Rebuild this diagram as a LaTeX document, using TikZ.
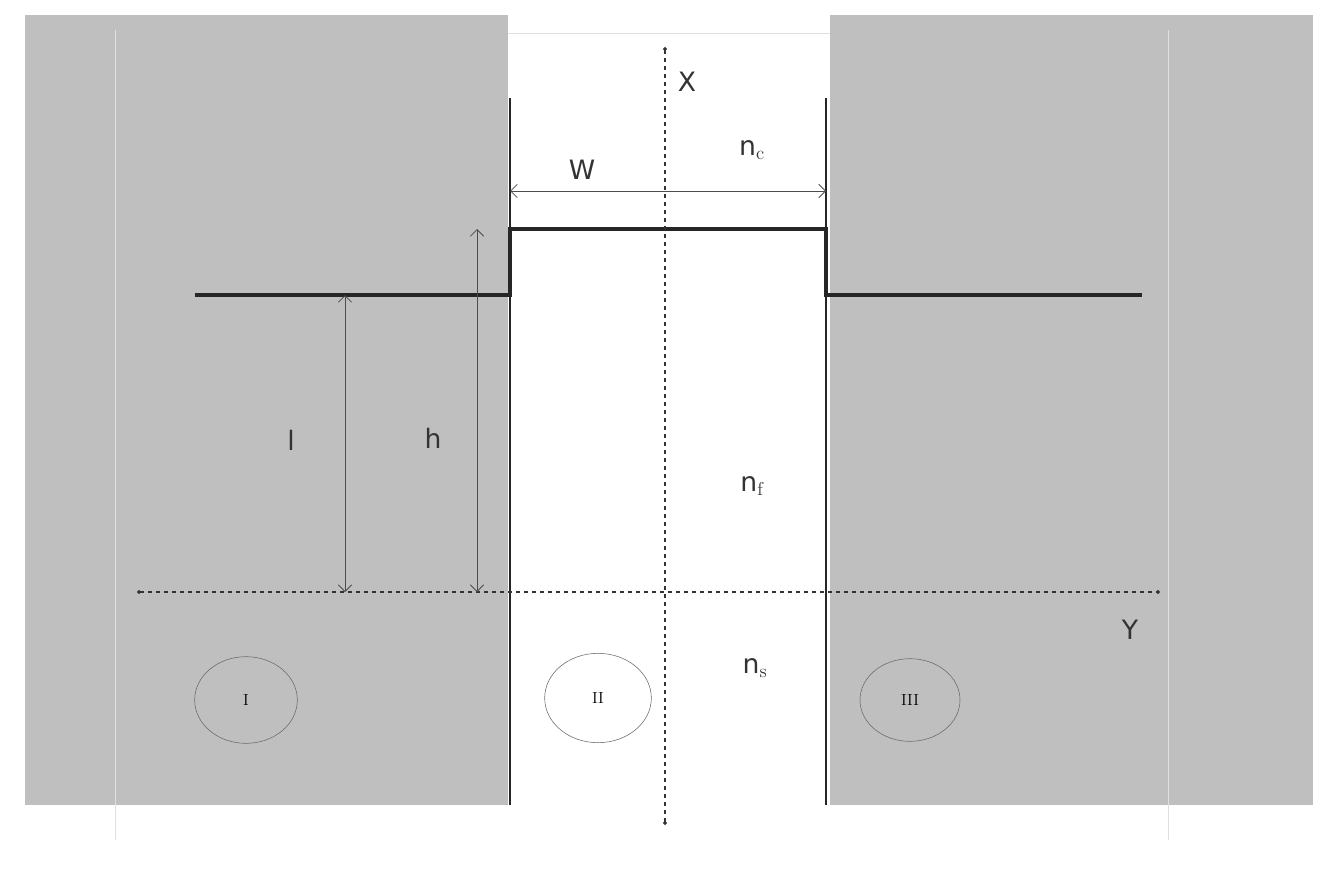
\documentclass[tikz,border=0pt]{standalone}
\usepackage{fontspec}
\setsansfont{DejaVu Sans}
\usetikzlibrary{arrows.meta}
\begin{document}
\begin{tikzpicture}[x=0.75pt,y=-0.75pt,
  lbl/.style={font=\sffamily\fontsize{20}{24}\selectfont,text=black!80},
  rom/.style={draw=black!60,ellipse,inner sep=0pt,font=\fontsize{12}{14}\selectfont},
  dim/.style={draw=black!70,line width=0.6pt,{Straight Barb[length=5pt]}-{Straight Barb[length=5pt]}},
  ax/.style={draw=black!80,dashed,line width=0.8pt,{Circle[length=3pt]}-{Circle[length=3pt]}}]
\usetikzlibrary{shapes.geometric}
\useasboundingbox (0,0) rectangle (1331,868);
\fill[white] (0,0) rectangle (1331,868);
\fill[gray!50] (25,15) rectangle (508,805);
\fill[gray!50] (830,15) rectangle (1313,805);
\draw[black!12] (115,30) -- (115,840) (1168,30) -- (1168,840) (508,33) -- (830,33);
\draw[black!85,line width=1pt] (510,98) -- (510,805) (826,98) -- (826,805);
\draw[black!85,line width=3pt] (195,295) -- (510,295) -- (510,229) -- (826,229) -- (826,295) -- (1142,295);
\coordinate (xt) at (665,47); \coordinate (xb) at (665,825);
\coordinate (yl) at (137,592); \coordinate (yr) at (1160,592);
\draw[ax] (xt) -- (xb);
\draw[ax] (yl) -- (yr);
\coordinate (wl) at (510,191); \coordinate (wr) at (826,191);
\draw[dim] (wl) -- (wr);
\coordinate (lt) at (345,295); \coordinate (lb) at (345,592);
\draw[dim] (lt) -- (lb);
\coordinate (ht) at (477,229); \coordinate (hb) at (477,592);
\draw[dim] (ht) -- (hb);
\node[lbl] (W) at (582,170) {W};
\node[lbl] (L) at (291,440) {l};
\node[lbl] (H) at (433,438) {h};
\node[lbl] (X) at (687,82) {X};
\node[lbl] (Y) at (1130,630) {Y};
\node[lbl] (nc) at (752,150) {n$_\mathrm{c}$};
\node[lbl] (nf) at (752,486) {n$_\mathrm{f}$};
\node[lbl] (ns) at (755,668) {n$_\mathrm{s}$};
\node[rom,minimum width=77pt,minimum height=65pt] (r1) at (246,700) {I};
\node[rom,minimum width=80pt,minimum height=67pt] (r2) at (598,698) {II};
\node[rom,minimum width=75pt,minimum height=62pt] (r3) at (910,700) {III};
\end{tikzpicture}
\end{document}
